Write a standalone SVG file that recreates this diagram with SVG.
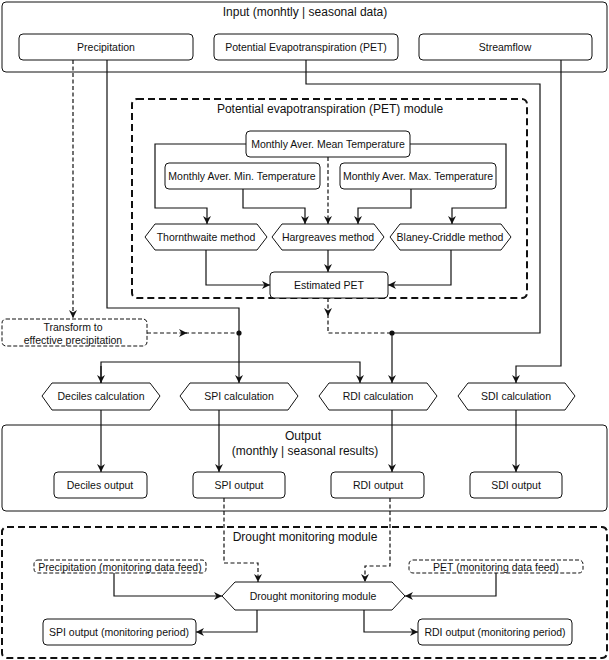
<svg xmlns="http://www.w3.org/2000/svg" width="609" height="660" viewBox="0 0 609 660">
<style>
text{font-family:"Liberation Sans",Arial,sans-serif;font-size:10.5px;fill:#111;text-anchor:middle;dominant-baseline:central}
.t{font-size:12px}
.b{fill:#fff;stroke:#111;stroke-width:1}
.db{fill:#fff;stroke:#111;stroke-width:1;stroke-dasharray:4,2}
.mod{fill:none;stroke:#111;stroke-width:2;stroke-dasharray:7,4}
.c{fill:none;stroke:#111;stroke-width:1.2}
.d{fill:none;stroke:#111;stroke-width:1.2;stroke-dasharray:4,2.5}
</style>
<defs><marker id="a" viewBox="0 0 10 10" refX="10" refY="5" markerWidth="8" markerHeight="8" orient="auto" markerUnits="userSpaceOnUse"><path d="M0,0L10,5L0,10L3,5z" fill="#111"/></marker></defs>
<g id="input"><rect class="b" x="2" y="2" width="605" height="70" rx="4"/><text class="t" x="305" y="12">Input (monhtly | seasonal data)</text></g>
<g id="precip"><rect class="b" x="19" y="34" width="174" height="26" rx="4"/><text x="106" y="47">Precipitation</text></g>
<g id="pet"><rect class="b" x="214" y="34" width="184" height="26" rx="4"/><text x="306" y="47">Potential Evapotranspiration (PET)</text></g>
<g id="stream"><rect class="b" x="419" y="34" width="173" height="26" rx="4"/><text x="505" y="47">Streamflow</text></g>
<g id="petmodule"><rect class="mod" x="132" y="99" width="395" height="199" rx="5"/><text class="t" x="330" y="109">Potential evapotranspiration (PET) module</text></g>
<g id="meant"><rect class="b" x="246" y="131" width="164" height="26" rx="4"/><text x="328" y="144">Monthly Aver. Mean Temperature</text></g>
<g id="mint"><rect class="b" x="165" y="163" width="155" height="26" rx="4"/><text x="242" y="176">Monthly Aver. Min. Temperature</text></g>
<g id="maxt"><rect class="b" x="340" y="163" width="156" height="26" rx="4"/><text x="418" y="176">Monthly Aver. Max. Temperature</text></g>
<g id="thorn"><polygon class="b" points="145,237 155,224 257,224 267,237 257,250 155,250"/><text x="206" y="237">Thornthwaite method</text></g>
<g id="harg"><polygon class="b" points="272,237 282,224 374,224 384,237 374,250 282,250"/><text x="328" y="237">Hargreaves method</text></g>
<g id="blaney"><polygon class="b" points="390,237 400,224 501,224 511,237 501,250 400,250"/><text x="450" y="237">Blaney-Criddle method</text></g>
<g id="estpet"><rect class="b" x="270" y="272" width="118" height="26" rx="4"/><text x="329" y="285">Estimated PET</text></g>
<g id="transform"><rect class="db" x="2" y="319" width="145" height="27" rx="4"/><text x="73" y="327">Transform to</text><text x="73" y="340">effective precipitation</text></g>
<g id="deciles"><polygon class="b" points="42,396 52,383 150,383 160,396 150,410 52,410"/><text x="101" y="396">Deciles calculation</text></g>
<g id="spi"><polygon class="b" points="180,396 190,383 288,383 298,396 288,410 190,410"/><text x="239" y="396">SPI calculation</text></g>
<g id="rdi"><polygon class="b" points="319,396 329,383 427,383 437,396 427,410 329,410"/><text x="378" y="396">RDI calculation</text></g>
<g id="sdi"><polygon class="b" points="458,396 468,383 565,383 575,396 565,410 468,410"/><text x="516" y="396">SDI calculation</text></g>
<g id="output"><rect class="b" x="2" y="425" width="605" height="86" rx="4"/><text class="t" x="303" y="436">Output</text><text class="t" x="305" y="451">(monthly | seasonal results)</text></g>
<g id="decout"><rect class="b" x="54" y="472" width="93" height="26" rx="4"/><text x="100" y="485">Deciles output</text></g>
<g id="spiout"><rect class="b" x="193" y="472" width="92" height="26" rx="4"/><text x="239" y="485">SPI output</text></g>
<g id="rdiout"><rect class="b" x="331" y="472" width="93" height="26" rx="4"/><text x="378" y="485">RDI output</text></g>
<g id="sdiout"><rect class="b" x="470" y="472" width="92" height="26" rx="4"/><text x="516" y="485">SDI output</text></g>
<g id="droughtmod"><rect class="mod" x="2" y="527" width="605" height="131" rx="5"/><text class="t" x="305" y="537">Drought monitoring module</text></g>
<g id="pfeed"><rect class="db" x="34" y="560" width="172" height="13" rx="4"/><text x="120" y="567">Precipitation (monitoring data feed)</text></g>
<g id="petfeed"><rect class="db" x="409" y="560" width="174" height="13" rx="4"/><text x="496" y="567">PET (monitoring data feed)</text></g>
<g id="dmm"><polygon class="b" points="222,596 235,582 392,582 405,596 392,610 235,610"/><text x="313" y="596">Drought monitoring module</text></g>
<g id="spimon"><rect class="b" x="43" y="619" width="153" height="26" rx="4"/><text x="119" y="632">SPI output (monitoring period)</text></g>
<g id="rdimon"><rect class="b" x="418" y="619" width="154" height="26" rx="4"/><text x="495" y="632">RDI output (monitoring period)</text></g>
<g id="connectors">
<path class="d" d="M73,60V318" marker-end="url(#a)"/>
<path class="c" d="M107,60V308H239V383" marker-end="url(#a)"/>
<path class="c" d="M306,60V84H540V333H392"/>
<path class="c" d="M561,60V366H516V383" marker-end="url(#a)"/>
<path class="c" d="M246,144H155V208H207V224" marker-end="url(#a)"/>
<path class="c" d="M410,144H506V208H452V224" marker-end="url(#a)"/>
<path class="d" d="M328,157V224" marker-end="url(#a)"/>
<path class="c" d="M243,189V208H305V224" marker-end="url(#a)"/>
<path class="c" d="M411,189V208H358V224" marker-end="url(#a)"/>
<path class="c" d="M206,250V285H270" marker-end="url(#a)"/>
<path class="c" d="M328,250V272" marker-end="url(#a)"/>
<path class="c" d="M451,250V285H388" marker-end="url(#a)"/>
<path class="d" d="M328,298V316" marker-end="url(#a)"/>
<path class="d" d="M328,314V333H392"/>
<path class="d" d="M147,333H187" marker-end="url(#a)"/>
<path class="d" d="M185,333H239"/>
<circle cx="239" cy="333" r="2.6" fill="#111"/>
<circle cx="392" cy="333" r="2.6" fill="#111"/>
<path class="c" d="M392,333V383" marker-end="url(#a)"/>
<path class="c" d="M101,383V362H360V383" marker-end="url(#a)"/>
<path class="c" d="M101,366V383" marker-end="url(#a)"/>
<path class="c" d="M101,410V472" marker-end="url(#a)"/>
<path class="c" d="M219,410V472" marker-end="url(#a)"/>
<path class="c" d="M392,410V472" marker-end="url(#a)"/>
<path class="c" d="M516,410V472" marker-end="url(#a)"/>
<path class="d" d="M224,498V563H258V582" marker-end="url(#a)"/>
<path class="d" d="M390,498V566H365V582" marker-end="url(#a)"/>
<path class="c" d="M114,573V596H222" marker-end="url(#a)"/>
<path class="c" d="M496,573V596H405" marker-end="url(#a)"/>
<path class="c" d="M257,610V632H196" marker-end="url(#a)"/>
<path class="c" d="M364,610V632H418" marker-end="url(#a)"/>
</g>
</svg>
